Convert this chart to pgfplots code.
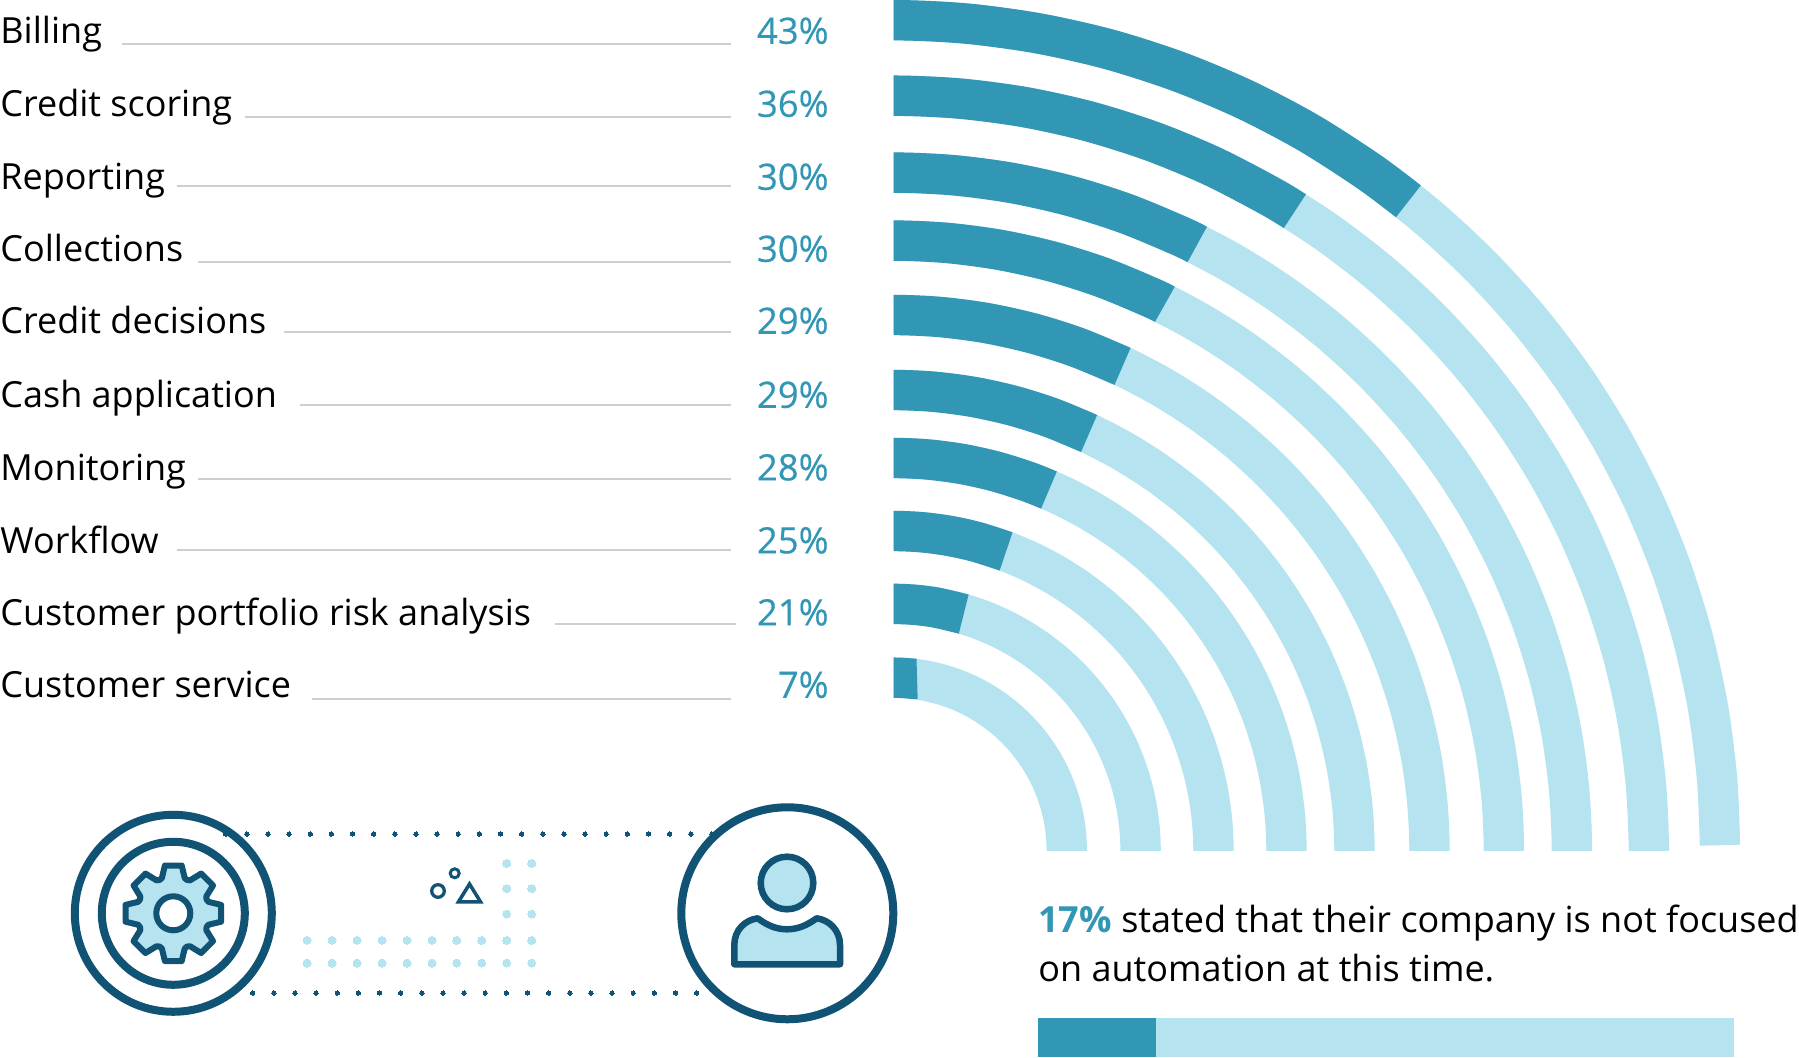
\documentclass[border=0pt]{standalone}
\usepackage{fontspec}
\setmainfont{Open Sans}
\newfontfamily\valfont[FakeBold=0.35]{Open Sans}
\usepackage{pgfplots}
\usepackage{pgfplotstable}
\pgfplotsset{compat=1.18}

\definecolor{dark}{HTML}{3296B5}
\definecolor{light}{HTML}{B5E3F0}
\definecolor{navy}{HTML}{105374}
\definecolor{rule}{HTML}{CFCFCF}

% angle and radius (px) of the light tracks, inner nine rings
% rows at 95 and -5 run past the axis box, which cuts the ends square
\pgfplotstableread{
a  r2    r3    r4    r5    r6    r7    r8    r9    r10
95 755.3 678.4 610.4 536.0 461.0 393.0 320.0 247.1 173.3
90 755.3 678.4 610.4 536.0 461.0 393.0 320.0 247.1 173.3
85 755.3 678.4 610.4 536.0 461.0 393.0 320.0 247.1 173.3
80 755.3 678.4 610.4 536.0 461.0 393.0 320.0 247.1 173.3
75 755.3 678.4 610.4 536.0 461.0 393.0 320.0 247.1 173.3
70 755.3 678.4 610.4 536.0 461.0 393.0 320.0 247.1 173.3
65 755.3 678.4 610.4 536.0 461.0 393.0 320.0 247.1 173.3
60 755.3 678.4 610.4 536.0 461.0 393.0 320.0 247.1 173.3
55 755.3 678.4 610.4 536.0 461.0 393.0 320.0 247.1 173.3
50 755.3 678.4 610.4 536.0 461.0 393.0 320.0 247.1 173.3
45 755.3 678.4 610.4 536.0 461.0 393.0 320.0 247.1 173.3
40 755.3 678.4 610.4 536.0 461.0 393.0 320.0 247.1 173.3
35 755.3 678.4 610.4 536.0 461.0 393.0 320.0 247.1 173.3
30 755.3 678.4 610.4 536.0 461.0 393.0 320.0 247.1 173.3
25 755.3 678.4 610.4 536.0 461.0 393.0 320.0 247.1 173.3
20 755.3 678.4 610.4 536.0 461.0 393.0 320.0 247.1 173.3
15 755.3 678.4 610.4 536.0 461.0 393.0 320.0 247.1 173.3
10 755.3 678.4 610.4 536.0 461.0 393.0 320.0 247.1 173.3
5  755.3 678.4 610.4 536.0 461.0 393.0 320.0 247.1 173.3
0  755.3 678.4 610.4 536.0 461.0 393.0 320.0 247.1 173.3
-5 755.3 678.4 610.4 536.0 461.0 393.0 320.0 247.1 173.3
}\tracks

\tikzset{
  lab/.style={font=\fontsize{18}{22}\selectfont, inner sep=0pt, anchor=base west, yshift=-0.55pt},
  val/.style={font=\fontsize{18.2}{22}\selectfont\valfont, inner sep=0pt, anchor=base east, text=dark, yshift=-0.55pt},
  leader/.style={rule, line width=0.85pt},
  track/.style={light, line width=20.2pt, smooth},
  done/.style={dark, line width=20.2pt, smooth},
}

\begin{document}
\begin{tikzpicture}
\path[use as bounding box] (0,0) rectangle (899.5pt,529pt);

% page layer, coordinates are reference pixels
\begin{axis}[
    scale only axis, width=899.5pt, height=529pt,
    xmin=0, xmax=1799, ymin=0, ymax=1058,
    y dir=reverse, hide axis, clip=false,
]
% leader lines
\addplot[leader] coordinates {(121.7,43.7) (731.4,43.7)};
\addplot[leader] coordinates {(244.5,117) (731.4,117)};
\addplot[leader] coordinates {(176.8,185.7) (731.4,185.7)};
\addplot[leader] coordinates {(198,261.7) (731.4,261.7)};
\addplot[leader] coordinates {(283.6,331.7) (731.4,331.7)};
\addplot[leader] coordinates {(300.2,405) (731.4,405)};
\addplot[leader] coordinates {(198,478.7) (731.4,478.7)};
\addplot[leader] coordinates {(176.8,550) (731.4,550)};
\addplot[leader] coordinates {(555,624.3) (736,624.3)};
\addplot[leader] coordinates {(311.7,699.3) (731.4,699.3)};

% 17% bar
\addplot[light, line width=19.35pt] coordinates {(1037.9,1037.7) (1734,1037.7)};
\addplot[dark, line width=19.35pt] coordinates {(1037.9,1037.7) (1155.8,1037.7)};

% dotted connectors
\addplot[only marks, navy, mark=*, mark size=1.1pt, mark options={line width=0pt, fill=navy}] coordinates {
 (225.7,834) (246.8,834) (268,834) (289.1,834) (310.3,834) (331.4,834) (352.5,834) (373.7,834)
 (394.8,834) (416,834) (437.1,834) (458.2,834) (479.4,834) (500.5,834) (521.7,834) (542.8,834)
 (563.9,834) (585.1,834) (606.2,834) (627.4,834) (648.5,834) (669.6,834) (690.8,834) (711.9,834)
 (252.7,993) (273.8,993) (295,993) (316.1,993) (337.3,993) (358.4,993) (379.5,993) (400.7,993)
 (421.8,993) (443,993) (464.1,993) (485.2,993) (506.4,993) (527.5,993) (548.7,993) (569.8,993)
 (590.9,993) (612.1,993) (633.2,993) (654.4,993) (675.5,993) (696.6,993)
};
\addplot[only marks, light, mark=*, mark size=2pt, mark options={line width=0pt, fill=light}] coordinates {
 (307,940.3) (332,940.3) (357,940.3) (382,940.3) (407,940.3) (432,940.3) (456.7,940.3) (481.7,940.3) (506.7,940.3) (531.7,940.3)
 (307,963) (332,963) (357,963) (382,963) (407,963) (432,963) (456.7,963) (481.7,963) (506.7,963) (531.7,963)
 (506.7,863.3) (531.7,863.3) (506.7,888.7) (531.7,888.7) (506.7,914) (531.7,914)
};

\node[lab] at (axis cs:0,42.7) {Billing};
\node[lab] at (axis cs:0,115.7) {Credit scoring};
\node[lab] at (axis cs:0,188.7) {Reporting};
\node[lab] at (axis cs:0,260.7) {Collections};
\node[lab] at (axis cs:0,332.7) {Credit decisions};
\node[lab] at (axis cs:0,406.7) {Cash application};
\node[lab] at (axis cs:0,479.3) {Monitoring};
\node[lab] at (axis cs:0,552.3) {Workflow};
\node[lab] at (axis cs:0,624.3) {Customer portfolio risk analysis};
\node[lab] at (axis cs:0,696.7) {Customer service};

\node[val] at (axis cs:829,42.7) {43\%};
\node[val] at (axis cs:829,115.7) {36\%};
\node[val] at (axis cs:829,188.7) {30\%};
\node[val] at (axis cs:829,260.7) {30\%};
\node[val] at (axis cs:829,332.7) {29\%};
\node[val] at (axis cs:829,406.7) {29\%};
\node[val] at (axis cs:829,479.3) {28\%};
\node[val] at (axis cs:829,552.3) {25\%};
\node[val] at (axis cs:829,624.3) {21\%};
\node[val] at (axis cs:829,696.7) {7\%};

\node[lab] at (axis cs:1038,931.7) {\textcolor{dark}{\textbf{17\%}} stated that their company is not focused};
\node[lab] at (axis cs:1038,980) {on automation at this time.};
\end{axis}

% radial bars, origin at the centre of the rings, (angle, radius)
\begin{axis}[
    at={(446.75pt,103.5pt)},
    scale only axis, width=452.75pt, height=425.5pt,
    xmin=0, xmax=905.5, ymin=0, ymax=851,
    hide axis, data cs=polar,
]
% outer ring is a little flattened in the reference
\addplot[track] coordinates {(95,830.8) (90,830.8) (85,830.6) (80,830.3) (75,830.1) (70,829.8) (65,829.6) (60,829.4) (55,829.1) (50,828.9) (45,828.65) (40,828.4) (35,828.2) (30,827.9) (25,827.7) (20,827.5) (15,827.2) (10,827) (5,826.7) (0.4,826.5)};
\addplot[track] table[x=a,y=r2] {\tracks};
\addplot[track] table[x=a,y=r3] {\tracks};
\addplot[track] table[x=a,y=r4] {\tracks};
\addplot[track] table[x=a,y=r5] {\tracks};
\addplot[track] table[x=a,y=r6] {\tracks};
\addplot[track] table[x=a,y=r7] {\tracks};
\addplot[track] table[x=a,y=r8] {\tracks};
\addplot[track] table[x=a,y=r9] {\tracks};
\addplot[track] table[x=a,y=r10] {\tracks};

\addplot[done] coordinates {(95,830.8) (90,830.8) (85,830.6) (80,830.3) (75,830.1) (70,829.8) (65,829.6) (60,829.4) (55,829.1) (51.6,829)};
\addplot[done] coordinates {(95,755.3) (90,755.3) (85,755.3) (80,755.3) (75,755.3) (70,755.3) (65,755.3) (60,755.3) (57.9,755.3)};
\addplot[done] coordinates {(95,678.4) (90,678.4) (85,678.4) (80,678.4) (75,678.4) (70,678.4) (65,678.4) (63.4,678.4)};
\addplot[done] coordinates {(95,610.4) (90,610.4) (85,610.4) (80,610.4) (75,610.4) (70,610.4) (65,610.4) (63.6,610.4)};
\addplot[done] coordinates {(95,536) (90,536) (85,536) (80,536) (75,536) (70,536) (64.7,536)};
\addplot[done] coordinates {(95,461) (90,461) (85,461) (80,461) (75,461) (70,461) (64.9,461)};
\addplot[done] coordinates {(95,393) (90,393) (85,393) (80,393) (75,393) (70,393) (66.7,393)};
\addplot[done] coordinates {(95,320) (90,320) (85,320) (80,320) (75,320) (69.4,320)};
\addplot[done] coordinates {(95,247.1) (90,247.1) (85,247.1) (80,247.1) (73.5,247.1)};
% this one ends in an upright cut, hence the last point
\addplot[done] coordinates {(95,173.3) (90,173.3) (86,173.3) (83.5,173.3) (82.2,173.8)};
\end{axis}

% icons, same pixel grid
\begin{scope}[x=0.5pt, y=-0.5pt, yshift=529pt, navy]
  \draw[line width=4pt] (173.3,913.3) circle[radius=49.25pt];
  \draw[line width=4pt] (173.3,913.3) circle[radius=35.75pt];
  \begin{scope}[shift={(173.3,913.3)}]
    \draw[line width=3pt, line join=round, fill=light]
      (-18:37) \foreach \t in {0,45,...,315} {
        -- ({\t-18}:37) -- ({\t-10}:48.5) -- ({\t+10}:48.5) -- ({\t+18}:37) -- ({\t+22.5}:36)
      } -- cycle;
    \draw[line width=3pt, fill=white] (0,0) circle[radius=8.5pt];
  \end{scope}
  \draw[line width=4pt] (787.3,913.3) circle[radius=53pt];
  \draw[line width=3.25pt, fill=light] (787,883) circle[radius=13.15pt];
  \draw[line width=3.25pt, fill=light, line join=round]
    (734.3,964.3) -- (734.3,945) .. controls (734.3,930) and (745,920) .. (757.7,918.3)
    .. controls (768,926) and (777,929.3) .. (787,929.3)
    .. controls (797,929.3) and (806,926) .. (816.7,918.3)
    .. controls (829,920) and (840,930) .. (840,945) -- (840,964.3) -- cycle;
  \draw[line width=1.65pt] (438,891) circle[radius=3.15pt];
  \draw[line width=1.5pt] (454.7,873.3) circle[radius=2.25pt];
  \draw[line width=1.75pt] (469.5,884) -- (480.5,901.8) -- (458.5,901.8) -- cycle;
\end{scope}
\end{tikzpicture}
\end{document}
